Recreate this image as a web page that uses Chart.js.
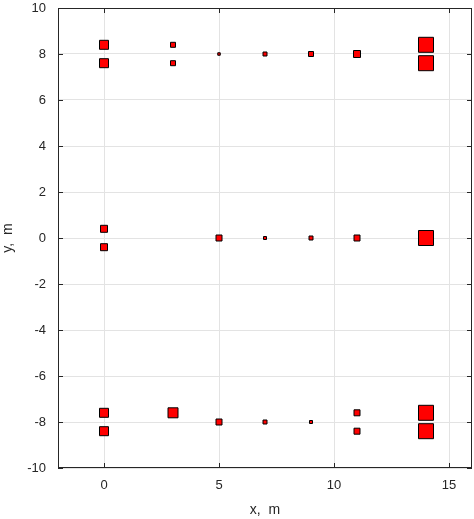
<!DOCTYPE html>
<html><head><meta charset="utf-8">
<script src="https://cdn.jsdelivr.net/npm/chart.js@4.4.0/dist/chart.umd.min.js"></script>
<style>html,body{margin:0;padding:0;background:#fff;}canvas{display:block;}</style>
</head><body>
<canvas id="c" width="474" height="519"></canvas>
<script>
const xValues = [0,0,3,3,5,7,9,11,14,14, 0,0,5,7,9,11,14, 0,0,3,5,7,9,11,11,14,14];
const yValues = [8.4,7.6,8.4,7.6,8,8,8,8,8.4,7.6, 0.4,-0.4,0,0,0,0,0, -7.6,-8.4,-7.6,-8,-8,-8,-7.6,-8.4,-7.6,-8.4];
const markerSide = [9,9,5,5,2.5,4,5,7,15,15, 7,7,6,3,4,6,15, 9,9,10,6,4,3,6,6,15,15];
const xTicks = [0,5,10,15];
const yTicks = [-10,-8,-6,-4,-2,0,2,4,6,8,10];
const xTitle = 'x,  m';
const yTitle = 'y,  m';

const points = xValues.map((x,i)=>({x:x,y:yValues[i]}));
const axisColor = '#262626';
const font = {family:'"Liberation Sans", Arial, sans-serif', size:13};

const innerTicks = {
  id:'innerTicks',
  afterDraw(chart){
    const ctx = chart.ctx, a = chart.chartArea, sx = chart.scales.x, sy = chart.scales.y, L = 5;
    ctx.save();
    ctx.strokeStyle = axisColor; ctx.lineWidth = 1;
    ctx.beginPath();
    xTicks.forEach(v=>{ const p = Math.round(sx.getPixelForValue(v))+0.5;
      ctx.moveTo(p,a.bottom); ctx.lineTo(p,a.bottom-L);
      ctx.moveTo(p,a.top); ctx.lineTo(p,a.top+L); });
    yTicks.forEach(v=>{ const p = Math.round(sy.getPixelForValue(v))+0.5;
      ctx.moveTo(a.left,p); ctx.lineTo(a.left+L,p);
      ctx.moveTo(a.right,p); ctx.lineTo(a.right-L,p); });
    ctx.stroke();
    ctx.strokeRect(a.left+0.5, a.top+0.5, a.right-a.left-1, a.bottom-a.top-1);
    ctx.restore();
  }
};

new Chart(document.getElementById('c'), {
  type:'scatter',
  data:{datasets:[{
    data:points,
    pointStyle:'rect',
    pointRadius: markerSide.map(s=>s/Math.SQRT2),
    pointHoverRadius: markerSide.map(s=>s/Math.SQRT2),
    backgroundColor:'#ff0000',
    borderColor:'#000000',
    borderWidth:1
  }]},
  options:{
    responsive:false, animation:false,
    layout:{autoPadding:false,padding:{top:8,right:2,left:0,bottom:0}},
    plugins:{legend:{display:false},tooltip:{enabled:false}},
    scales:{
      x:{type:'linear',min:-2,max:16,
        afterBuildTicks(s){s.ticks = xTicks.map(v=>({value:v}));},
        afterFit(s){s.height = 51; s.paddingLeft = 0; s.paddingRight = 0;},
        grid:{color:'#e3e3e3',drawTicks:false},
        border:{display:false},
        ticks:{color:axisColor,font:font,padding:10,maxRotation:0},
        title:{display:true,text:xTitle,color:axisColor,font:{family:font.family,size:14},padding:{top:6,bottom:0}}
      },
      y:{type:'linear',min:-10,max:10,
        afterBuildTicks(s){s.ticks = yTicks.map(v=>({value:v}));},
        afterFit(s){s.width = 58; s.paddingTop = 0; s.paddingBottom = 0;},
        grid:{color:'#e3e3e3',drawTicks:false},
        border:{display:false},
        ticks:{color:axisColor,font:font,padding:12},
        title:{display:true,text:yTitle,color:axisColor,font:{family:font.family,size:14},padding:{top:0,bottom:0}}
      }
    }
  },
  plugins:[innerTicks]
});
</script>
</body></html>
